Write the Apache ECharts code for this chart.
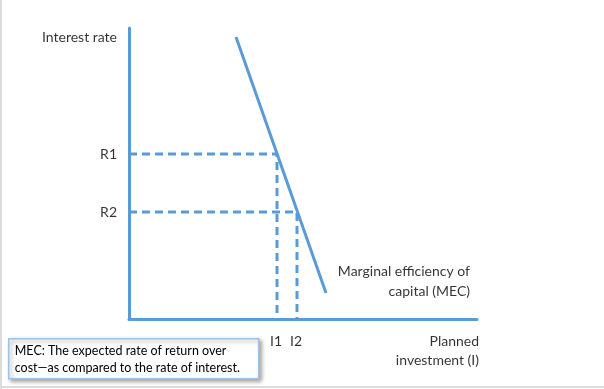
<!DOCTYPE html>
<html>
<head>
<meta charset="utf-8">
<script src="https://cdn.jsdelivr.net/npm/echarts@6/dist/echarts.min.js"></script>
<style>
html,body{margin:0;padding:0;background:#fff;}
#chart{width:604px;height:389px;}
</style>
</head>
<body>
<div id="chart"></div>
<script>
// Axis extents (abstract units)
var xMax = 348;
var yMax = 291;
// MEC curve: [investment, interest rate]
var mecCurve = [[107, 282], [197, 26]];
// Interest rates and corresponding planned investment
var rateNames = ['R1', 'R2'];
var rateValues = [165, 107];
var investNames = ['I1', 'I2'];
var investValues = [148, 168];
// Text annotations
var yAxisTitle = 'Interest rate';
var xAxisTitle = ['Planned', 'investment (I)'];
var curveTitle = ['Marginal efficiency of', 'capital (MEC)'];
var noteLines = ['MEC: The expected rate of return over', 'cost\u2014as compared to the rate of interest.'];

var BLUE = '#5B9BD5';
var FONT = 'Lato';
var TXT = '#000000';
var chart = echarts.init(document.getElementById('chart'));

var series = [];
series.push({
  type: 'line', data: mecCurve, symbol: 'none', silent: true,
  lineStyle: {color: BLUE, width: 3}
});
for (var i = 0; i < rateValues.length; i++) {
  series.push({
    type: 'line', symbol: 'none', silent: true,
    data: [[0, rateValues[i]], [investValues[i], rateValues[i]], [investValues[i], 0]],
    lineStyle: {color: BLUE, width: 3, type: [8, 5]}
  });
}
function labelSeries(items) {
  return {
    type: 'scatter', symbolSize: 0, silent: true,
    data: items.map(function (it) {
      return {
        value: it.v,
        label: {
          show: true, position: 'inside', formatter: it.t,
          align: it.align || 'center', verticalAlign: 'middle',
          offset: it.off || [0, 0],
          color: TXT, fontFamily: FONT, fontSize: 14
        }
      };
    })
  };
}
var labels = [];
labels.push({v: [0, yMax - 9], t: yAxisTitle, align: 'right', off: [-12, 0]});
for (var j = 0; j < rateValues.length; j++) {
  labels.push({v: [0, rateValues[j]], t: rateNames[j], align: 'right', off: [-12, 0]});
  labels.push({v: [investValues[j], 0], t: investNames[j], align: 'center', off: [-1, 22]});
}
labels.push({v: [xMax, 0], t: xAxisTitle[0], align: 'right', off: [2, 22]});
labels.push({v: [xMax, 0], t: xAxisTitle[1], align: 'right', off: [2, 41]});
labels.push({v: [xMax, 0], t: curveTitle[0], align: 'right', off: [-7, -48]});
labels.push({v: [xMax, 0], t: curveTitle[1], align: 'right', off: [-7, -28]});
series.push(labelSeries(labels));

chart.setOption({
  animation: false,
  backgroundColor: '#ffffff',
  grid: {left: 129, right: 127, top: 28, bottom: 70},
  xAxis: {
    type: 'value', min: 0, max: xMax,
    axisLine: {show: true, onZero: false, lineStyle: {color: BLUE, width: 3}},
    axisTick: {show: false}, axisLabel: {show: false}, splitLine: {show: false}
  },
  yAxis: {
    type: 'value', min: 0, max: yMax,
    axisLine: {show: true, onZero: false, lineStyle: {color: BLUE, width: 3}},
    axisTick: {show: false}, axisLabel: {show: false}, splitLine: {show: false}
  },
  series: series,
  graphic: [
    {type: 'rect', shape: {x: 0, y: 0, width: 2, height: 389}, style: {fill: '#dcdcdc'}, silent: true},
    {type: 'rect', shape: {x: 0, y: 386, width: 604, height: 2}, style: {fill: '#dcdcdc'}, silent: true},
    {
      type: 'group', left: 8, top: 338, silent: true,
      children: [
        {type: 'rect', shape: {x: 0, y: 0, width: 250, height: 40},
          style: {fill: '#fff', stroke: '#9DC3E6', lineWidth: 1.5,
            shadowBlur: 4, shadowOffsetX: 2, shadowOffsetY: 2, shadowColor: 'rgba(0,0,0,0.35)'}},
        {type: 'text', x: 6, y: 12, style: {text: noteLines[0], fill: TXT, font: '12.5px ' + FONT, verticalAlign: 'middle'}},
        {type: 'text', x: 6, y: 29, style: {text: noteLines[1], fill: TXT, font: '12.5px ' + FONT, verticalAlign: 'middle'}}
      ]
    }
  ]
});
</script>
</body>
</html>
